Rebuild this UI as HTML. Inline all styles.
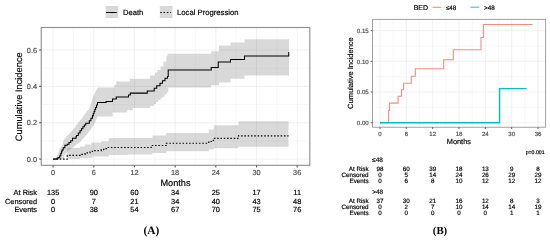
<!DOCTYPE html>
<html><head><meta charset="utf-8"><style>
html,body{margin:0;padding:0;background:#fff;width:550px;height:240px;overflow:hidden;font-family:"Liberation Sans", sans-serif;}
</style></head><body>
<svg width="550" height="240" viewBox="0 0 550 240" style="position:absolute;left:0;top:0;will-change:transform">
<g font-family='"Liberation Sans", sans-serif' text-rendering="geometricPrecision">
<line x1="73.44" y1="27.5" x2="73.44" y2="165.3" stroke="#efefef" stroke-width="0.45"/>
<line x1="114.12" y1="27.5" x2="114.12" y2="165.3" stroke="#efefef" stroke-width="0.45"/>
<line x1="154.80" y1="27.5" x2="154.80" y2="165.3" stroke="#efefef" stroke-width="0.45"/>
<line x1="195.48" y1="27.5" x2="195.48" y2="165.3" stroke="#efefef" stroke-width="0.45"/>
<line x1="236.16" y1="27.5" x2="236.16" y2="165.3" stroke="#efefef" stroke-width="0.45"/>
<line x1="276.84" y1="27.5" x2="276.84" y2="165.3" stroke="#efefef" stroke-width="0.45"/>
<line x1="41.25" y1="140.92" x2="309.8" y2="140.92" stroke="#efefef" stroke-width="0.45"/>
<line x1="41.25" y1="104.56" x2="309.8" y2="104.56" stroke="#efefef" stroke-width="0.45"/>
<line x1="41.25" y1="68.20" x2="309.8" y2="68.20" stroke="#efefef" stroke-width="0.45"/>
<line x1="53.10" y1="27.5" x2="53.10" y2="165.3" stroke="#e8e8e8" stroke-width="0.6"/>
<line x1="93.78" y1="27.5" x2="93.78" y2="165.3" stroke="#e8e8e8" stroke-width="0.6"/>
<line x1="134.46" y1="27.5" x2="134.46" y2="165.3" stroke="#e8e8e8" stroke-width="0.6"/>
<line x1="175.14" y1="27.5" x2="175.14" y2="165.3" stroke="#e8e8e8" stroke-width="0.6"/>
<line x1="215.82" y1="27.5" x2="215.82" y2="165.3" stroke="#e8e8e8" stroke-width="0.6"/>
<line x1="256.50" y1="27.5" x2="256.50" y2="165.3" stroke="#e8e8e8" stroke-width="0.6"/>
<line x1="297.18" y1="27.5" x2="297.18" y2="165.3" stroke="#e8e8e8" stroke-width="0.6"/>
<line x1="41.25" y1="159.10" x2="309.8" y2="159.10" stroke="#e8e8e8" stroke-width="0.6"/>
<line x1="41.25" y1="122.74" x2="309.8" y2="122.74" stroke="#e8e8e8" stroke-width="0.6"/>
<line x1="41.25" y1="86.38" x2="309.8" y2="86.38" stroke="#e8e8e8" stroke-width="0.6"/>
<line x1="41.25" y1="50.02" x2="309.8" y2="50.02" stroke="#e8e8e8" stroke-width="0.6"/>
<path d="M53.20,159.10 L55.00,159.10 L55.00,158.20 L55.50,158.20 L55.50,157.63 L56.00,157.63 L56.00,157.07 L56.50,157.07 L56.50,156.50 L56.75,156.50 L56.75,155.92 L57.00,155.92 L57.00,155.33 L57.25,155.33 L57.25,154.75 L57.50,154.75 L57.50,154.17 L57.75,154.17 L57.75,153.58 L58.00,153.58 L58.00,153.00 L58.29,153.00 L58.29,152.43 L58.57,152.43 L58.57,151.86 L58.86,151.86 L58.86,151.29 L59.14,151.29 L59.14,150.71 L59.43,150.71 L59.43,150.14 L59.71,150.14 L59.71,149.57 L60.00,149.57 L60.00,149.00 L60.38,149.00 L60.38,148.38 L60.75,148.38 L60.75,147.75 L61.12,147.75 L61.12,147.12 L61.50,147.12 L61.50,146.50 L61.80,146.50 L61.80,145.88 L62.10,145.88 L62.10,145.25 L62.40,145.25 L62.40,144.62 L62.70,144.62 L62.70,144.00 L62.80,144.00 L62.80,143.42 L62.90,143.42 L62.90,142.83 L63.00,142.83 L63.00,142.25 L63.10,142.25 L63.10,141.67 L63.20,141.67 L63.20,141.08 L63.30,141.08 L63.30,140.50 L63.71,140.50 L63.71,139.94 L64.12,139.94 L64.12,139.38 L64.54,139.38 L64.54,138.81 L64.95,138.81 L64.95,138.25 L65.36,138.25 L65.36,137.69 L65.77,137.69 L65.77,137.12 L66.19,137.12 L66.19,136.56 L66.60,136.56 L66.60,136.00 L67.16,136.00 L67.16,135.44 L67.72,135.44 L67.72,134.88 L68.29,134.88 L68.29,134.31 L68.85,134.31 L68.85,133.75 L69.41,133.75 L69.41,133.19 L69.97,133.19 L69.97,132.62 L70.54,132.62 L70.54,132.06 L71.10,132.06 L71.10,131.50 L71.60,131.50 L71.60,130.88 L72.10,130.88 L72.10,130.26 L72.60,130.26 L72.60,129.63 L73.10,129.63 L73.10,129.01 L73.60,129.01 L73.60,128.39 L74.10,128.39 L74.10,127.77 L74.60,127.77 L74.60,127.14 L75.10,127.14 L75.10,126.52 L75.60,126.52 L75.60,125.90 L76.02,125.90 L76.02,125.34 L76.45,125.34 L76.45,124.78 L76.88,124.78 L76.88,124.21 L77.30,124.21 L77.30,123.65 L77.72,123.65 L77.72,123.09 L78.15,123.09 L78.15,122.53 L78.58,122.53 L78.58,121.96 L79.00,121.96 L79.00,121.40 L79.50,121.40 L79.50,120.83 L80.00,120.83 L80.00,120.27 L80.50,120.27 L80.50,119.70 L81.00,119.70 L81.00,119.13 L81.50,119.13 L81.50,118.57 L82.00,118.57 L82.00,118.00 L82.39,118.00 L82.39,117.40 L82.77,117.40 L82.77,116.80 L83.16,116.80 L83.16,116.20 L83.54,116.20 L83.54,115.60 L83.93,115.60 L83.93,115.00 L84.31,115.00 L84.31,114.40 L84.70,114.40 L84.70,113.80 L85.16,113.80 L85.16,113.22 L85.62,113.22 L85.62,112.64 L86.08,112.64 L86.08,112.06 L86.54,112.06 L86.54,111.48 L87.00,111.48 L87.00,110.90 L87.46,110.90 L87.46,110.32 L87.92,110.32 L87.92,109.74 L88.38,109.74 L88.38,109.16 L88.84,109.16 L88.84,108.58 L89.30,108.58 L89.30,108.00 L89.51,108.00 L89.51,107.39 L89.71,107.39 L89.71,106.78 L89.92,106.78 L89.92,106.17 L90.12,106.17 L90.12,105.56 L90.33,105.56 L90.33,104.94 L90.53,104.94 L90.53,104.33 L90.74,104.33 L90.74,103.72 L90.94,103.72 L90.94,103.11 L91.15,103.11 L91.15,102.50 L91.36,102.50 L91.36,101.89 L91.56,101.89 L91.56,101.28 L91.77,101.28 L91.77,100.67 L91.97,100.67 L91.97,100.06 L92.18,100.06 L92.18,99.44 L92.38,99.44 L92.38,98.83 L92.59,98.83 L92.59,98.22 L92.79,98.22 L92.79,97.61 L93.00,97.61 L93.00,97.00 L93.26,97.00 L93.26,96.42 L93.52,96.42 L93.52,95.85 L93.78,95.85 L93.78,95.28 L94.04,95.28 L94.04,94.70 L94.30,94.70 L94.30,94.12 L94.56,94.12 L94.56,93.55 L94.82,93.55 L94.82,92.97 L95.08,92.97 L95.08,92.40 L95.34,92.40 L95.34,91.83 L95.60,91.83 L95.60,91.25 L95.92,91.25 L95.92,90.62 L96.23,90.62 L96.23,90.00 L96.55,90.00 L96.55,89.38 L96.87,89.38 L96.87,88.75 L97.18,88.75 L97.18,88.12 L97.50,88.12 L97.50,87.50 L114.40,87.50 L114.40,84.70 L116.20,84.70 L116.20,81.50 L130.00,81.50 L130.00,78.75 L150.00,78.75 L150.00,75.50 L155.00,75.50 L155.00,72.50 L157.50,72.50 L157.50,70.00 L160.60,70.00 L160.60,66.25 L163.50,66.25 L163.50,61.60 L166.30,61.60 L166.30,56.00 L167.50,56.00 L167.50,53.75 L211.25,53.75 L211.25,51.25 L219.00,51.25 L219.00,45.50 L230.50,45.50 L230.50,42.50 L244.50,42.50 L244.50,39.25 L289.00,39.25 L289.00,75.50 L244.50,75.50 L244.50,78.75 L230.50,78.75 L230.50,82.50 L219.00,82.50 L219.00,85.30 L211.00,85.30 L211.00,87.50 L168.30,87.50 L168.30,92.50 L166.70,92.50 L166.70,94.60 L164.50,94.60 L164.50,96.70 L162.50,96.70 L162.50,98.30 L160.50,98.30 L160.50,100.00 L158.30,100.00 L158.30,102.00 L156.00,102.00 L156.00,104.00 L153.75,104.00 L153.75,106.00 L150.00,106.00 L150.00,108.00 L132.80,108.00 L132.80,110.20 L127.30,110.20 L127.30,112.60 L112.60,112.60 L112.60,116.60 L97.30,116.60 L97.30,117.18 L97.09,117.18 L97.09,117.76 L96.88,117.76 L96.88,118.34 L96.67,118.34 L96.67,118.92 L96.46,118.92 L96.46,119.50 L96.25,119.50 L96.25,120.12 L95.94,120.12 L95.94,120.75 L95.62,120.75 L95.62,121.38 L95.31,121.38 L95.31,122.00 L95.00,122.00 L95.00,122.62 L94.69,122.62 L94.69,123.25 L94.38,123.25 L94.38,123.88 L94.06,123.88 L94.06,124.50 L93.75,124.50 L93.75,125.12 L93.44,125.12 L93.44,125.75 L93.12,125.75 L93.12,126.38 L92.81,126.38 L92.81,127.00 L92.50,127.00 L92.50,127.62 L92.00,127.62 L92.00,128.25 L91.50,128.25 L91.50,128.88 L91.00,128.88 L91.00,129.50 L90.50,129.50 L90.50,130.12 L90.00,130.12 L90.00,130.75 L89.50,130.75 L89.50,131.38 L89.00,131.38 L89.00,132.00 L88.50,132.00 L88.50,132.62 L88.00,132.62 L88.00,133.25 L87.50,133.25 L87.50,133.83 L87.00,133.83 L87.00,134.42 L86.50,134.42 L86.50,135.00 L86.00,135.00 L86.00,135.58 L85.50,135.58 L85.50,136.17 L85.00,136.17 L85.00,136.75 L84.50,136.75 L84.50,137.33 L84.00,137.33 L84.00,137.92 L83.50,137.92 L83.50,138.50 L83.00,138.50 L83.00,139.08 L82.50,139.08 L82.50,139.67 L82.00,139.67 L82.00,140.25 L81.50,140.25 L81.50,140.83 L81.00,140.83 L81.00,141.42 L80.50,141.42 L80.50,142.00 L80.00,142.00 L80.00,142.57 L79.14,142.57 L79.14,143.14 L78.29,143.14 L78.29,143.71 L77.43,143.71 L77.43,144.29 L76.57,144.29 L76.57,144.86 L75.71,144.86 L75.71,145.43 L74.86,145.43 L74.86,146.00 L74.00,146.00 L74.00,146.57 L73.30,146.57 L73.30,147.15 L72.60,147.15 L72.60,147.72 L71.90,147.72 L71.90,148.30 L71.20,148.30 L71.20,148.88 L70.50,148.88 L70.50,149.45 L69.80,149.45 L69.80,150.03 L69.10,150.03 L69.10,150.60 L68.40,150.60 L68.40,151.20 L67.91,151.20 L67.91,151.80 L67.42,151.80 L67.42,152.40 L66.93,152.40 L66.93,153.00 L66.44,153.00 L66.44,153.60 L65.96,153.60 L65.96,154.20 L65.47,154.20 L65.47,154.80 L64.98,154.80 L64.98,155.40 L64.49,155.40 L64.49,156.00 L64.00,156.00 L64.00,159.10 L62.00,159.10 L62.00,159.10 L53.20,159.10Z" fill="#000" fill-opacity="0.15"/>
<path d="M53.20,159.10 L67.25,159.10 L67.25,147.70 L80.00,147.70 L80.00,146.50 L85.00,146.50 L85.00,144.40 L91.25,144.40 L91.25,142.50 L101.25,142.50 L101.25,141.25 L108.75,141.25 L108.75,138.10 L152.50,138.10 L152.50,135.50 L166.25,135.50 L166.25,133.00 L208.75,133.00 L208.75,129.50 L213.75,129.50 L213.75,125.20 L238.50,125.20 L238.50,121.25 L288.50,121.25 L288.50,146.80 L238.50,146.80 L238.50,148.20 L213.75,148.20 L213.75,149.50 L209.00,149.50 L209.00,151.25 L166.25,151.25 L166.25,153.00 L152.50,153.00 L152.50,154.40 L128.00,154.40 L128.00,155.00 L108.75,155.00 L108.75,156.50 L92.50,156.50 L92.50,158.00 L80.00,158.00 L80.00,159.10 L53.20,159.10Z" fill="#000" fill-opacity="0.15"/>
<path d="M53.20,159.10H56.20V158.75H57.90V157.60H59.70V155.80H60.80V153.50H61.40V151.75H62.00V150.00H63.20V147.70H64.90V145.30H67.25V144.20H69.00V142.40H70.75V140.70H72.50V138.30H76.00V136.60H76.50V135.40H78.25V133.07H80.00V130.75H81.45V128.72H82.90V126.70H84.35V124.95H85.80V123.20H89.30V120.80H90.90V118.20H92.50V115.60H93.28V113.57H94.05V111.55H94.82V109.53H95.60V107.50H96.55V105.00H97.50V102.50H106.10V101.40H112.50V98.90H116.25V96.90H128.50V95.00H130.30V93.10H147.30V91.00H154.20V88.30H156.70V85.80H160.00V83.30H162.50V80.80H165.00V78.30H167.50V76.50H168.20V70.00H211.25V67.50H218.25V62.00H230.50V59.50H244.50V56.00H288.75V52.50H289.00" fill="none" stroke="#000" stroke-width="1.05"/>
<path d="M53.20,159.10H67.25V155.30H81.80V154.30H85.00V152.80H90.00V151.40H92.50V150.60H101.25V149.60H103.75V148.60H107.50V147.50H151.25V145.50H166.25V143.25H208.75V141.50H211.50V140.40H213.50V138.30H238.50V135.80H288.50" fill="none" stroke="#000" stroke-width="1.2" stroke-dasharray="1.5 1.8"/>
<rect x="41.25" y="27.5" width="268.55" height="137.80" fill="none" stroke="#8c8c8c" stroke-width="1.1"/>
<line x1="53.10" y1="165.3" x2="53.10" y2="167.40" stroke="#5a5a5a" stroke-width="1.1"/>
<text x="53.10" y="175.0" font-size="7.3" fill="#4d4d4d" stroke="#4d4d4d" stroke-width="0.18" text-anchor="middle">0</text>
<line x1="93.78" y1="165.3" x2="93.78" y2="167.40" stroke="#5a5a5a" stroke-width="1.1"/>
<text x="93.78" y="175.0" font-size="7.3" fill="#4d4d4d" stroke="#4d4d4d" stroke-width="0.18" text-anchor="middle">6</text>
<line x1="134.46" y1="165.3" x2="134.46" y2="167.40" stroke="#5a5a5a" stroke-width="1.1"/>
<text x="134.46" y="175.0" font-size="7.3" fill="#4d4d4d" stroke="#4d4d4d" stroke-width="0.18" text-anchor="middle">12</text>
<line x1="175.14" y1="165.3" x2="175.14" y2="167.40" stroke="#5a5a5a" stroke-width="1.1"/>
<text x="175.14" y="175.0" font-size="7.3" fill="#4d4d4d" stroke="#4d4d4d" stroke-width="0.18" text-anchor="middle">18</text>
<line x1="215.82" y1="165.3" x2="215.82" y2="167.40" stroke="#5a5a5a" stroke-width="1.1"/>
<text x="215.82" y="175.0" font-size="7.3" fill="#4d4d4d" stroke="#4d4d4d" stroke-width="0.18" text-anchor="middle">24</text>
<line x1="256.50" y1="165.3" x2="256.50" y2="167.40" stroke="#5a5a5a" stroke-width="1.1"/>
<text x="256.50" y="175.0" font-size="7.3" fill="#4d4d4d" stroke="#4d4d4d" stroke-width="0.18" text-anchor="middle">30</text>
<line x1="297.18" y1="165.3" x2="297.18" y2="167.40" stroke="#5a5a5a" stroke-width="1.1"/>
<text x="297.18" y="175.0" font-size="7.3" fill="#4d4d4d" stroke="#4d4d4d" stroke-width="0.18" text-anchor="middle">36</text>
<line x1="39.15" y1="159.10" x2="41.25" y2="159.10" stroke="#5a5a5a" stroke-width="1.1"/>
<text x="37.0" y="161.71" font-size="7.3" fill="#4d4d4d" stroke="#4d4d4d" stroke-width="0.18" text-anchor="end">0.0</text>
<line x1="39.15" y1="122.74" x2="41.25" y2="122.74" stroke="#5a5a5a" stroke-width="1.1"/>
<text x="37.0" y="125.35" font-size="7.3" fill="#4d4d4d" stroke="#4d4d4d" stroke-width="0.18" text-anchor="end">0.2</text>
<line x1="39.15" y1="86.38" x2="41.25" y2="86.38" stroke="#5a5a5a" stroke-width="1.1"/>
<text x="37.0" y="88.99" font-size="7.3" fill="#4d4d4d" stroke="#4d4d4d" stroke-width="0.18" text-anchor="end">0.4</text>
<line x1="39.15" y1="50.02" x2="41.25" y2="50.02" stroke="#5a5a5a" stroke-width="1.1"/>
<text x="37.0" y="52.63" font-size="7.3" fill="#4d4d4d" stroke="#4d4d4d" stroke-width="0.18" text-anchor="end">0.6</text>
<text x="175.5" y="185.6" font-size="9.2" fill="#000" stroke="#000" stroke-width="0.18" text-anchor="middle">Months</text>
<text transform="translate(21.7,96.75) rotate(-90)" font-size="9.3" fill="#000" stroke="#000" stroke-width="0.18" text-anchor="middle">Cumulative Incidence</text>
<rect x="105.6" y="6.0" width="12.6" height="12.1" fill="#000" fill-opacity="0.15"/>
<line x1="106.1" y1="12.5" x2="116.8" y2="12.5" stroke="#000" stroke-width="1"/>
<text x="123.0" y="14.8" font-size="7.6" fill="#000" stroke="#000" stroke-width="0.18">Death</text>
<rect x="159.8" y="6.0" width="12.6" height="12.1" fill="#000" fill-opacity="0.15"/>
<line x1="160.3" y1="12.5" x2="170.9" y2="12.5" stroke="#000" stroke-width="1" stroke-dasharray="1.5 1.8"/>
<text x="177.0" y="14.8" font-size="7.7" fill="#000" stroke="#000" stroke-width="0.18">Local Progression</text>
<text x="37.0" y="195.3" font-size="7.4" fill="#000" stroke="#000" stroke-width="0.18" text-anchor="end">At Risk</text>
<text x="37.0" y="203.7" font-size="7.4" fill="#000" stroke="#000" stroke-width="0.18" text-anchor="end">Censored</text>
<text x="37.0" y="212.0" font-size="7.4" fill="#000" stroke="#000" stroke-width="0.18" text-anchor="end">Events</text>
<text x="53.10" y="195.3" font-size="7.4" fill="#000" stroke="#000" stroke-width="0.18" text-anchor="middle">135</text>
<text x="93.78" y="195.3" font-size="7.4" fill="#000" stroke="#000" stroke-width="0.18" text-anchor="middle">90</text>
<text x="134.46" y="195.3" font-size="7.4" fill="#000" stroke="#000" stroke-width="0.18" text-anchor="middle">60</text>
<text x="175.14" y="195.3" font-size="7.4" fill="#000" stroke="#000" stroke-width="0.18" text-anchor="middle">34</text>
<text x="215.82" y="195.3" font-size="7.4" fill="#000" stroke="#000" stroke-width="0.18" text-anchor="middle">25</text>
<text x="256.50" y="195.3" font-size="7.4" fill="#000" stroke="#000" stroke-width="0.18" text-anchor="middle">17</text>
<text x="297.18" y="195.3" font-size="7.4" fill="#000" stroke="#000" stroke-width="0.18" text-anchor="middle">11</text>
<text x="53.10" y="203.7" font-size="7.4" fill="#000" stroke="#000" stroke-width="0.18" text-anchor="middle">0</text>
<text x="93.78" y="203.7" font-size="7.4" fill="#000" stroke="#000" stroke-width="0.18" text-anchor="middle">7</text>
<text x="134.46" y="203.7" font-size="7.4" fill="#000" stroke="#000" stroke-width="0.18" text-anchor="middle">21</text>
<text x="175.14" y="203.7" font-size="7.4" fill="#000" stroke="#000" stroke-width="0.18" text-anchor="middle">34</text>
<text x="215.82" y="203.7" font-size="7.4" fill="#000" stroke="#000" stroke-width="0.18" text-anchor="middle">40</text>
<text x="256.50" y="203.7" font-size="7.4" fill="#000" stroke="#000" stroke-width="0.18" text-anchor="middle">43</text>
<text x="297.18" y="203.7" font-size="7.4" fill="#000" stroke="#000" stroke-width="0.18" text-anchor="middle">48</text>
<text x="53.10" y="212.0" font-size="7.4" fill="#000" stroke="#000" stroke-width="0.18" text-anchor="middle">0</text>
<text x="93.78" y="212.0" font-size="7.4" fill="#000" stroke="#000" stroke-width="0.18" text-anchor="middle">38</text>
<text x="134.46" y="212.0" font-size="7.4" fill="#000" stroke="#000" stroke-width="0.18" text-anchor="middle">54</text>
<text x="175.14" y="212.0" font-size="7.4" fill="#000" stroke="#000" stroke-width="0.18" text-anchor="middle">67</text>
<text x="215.82" y="212.0" font-size="7.4" fill="#000" stroke="#000" stroke-width="0.18" text-anchor="middle">70</text>
<text x="256.50" y="212.0" font-size="7.4" fill="#000" stroke="#000" stroke-width="0.18" text-anchor="middle">75</text>
<text x="297.18" y="212.0" font-size="7.4" fill="#000" stroke="#000" stroke-width="0.18" text-anchor="middle">76</text>
<text x="143.6" y="234.4" font-size="11.3" font-weight="bold" fill="#000" font-family='"Liberation Serif", serif'>(A)</text>
<line x1="393.17" y1="19.4" x2="393.17" y2="127.25" stroke="#efefef" stroke-width="0.45"/>
<line x1="419.51" y1="19.4" x2="419.51" y2="127.25" stroke="#efefef" stroke-width="0.45"/>
<line x1="445.85" y1="19.4" x2="445.85" y2="127.25" stroke="#efefef" stroke-width="0.45"/>
<line x1="472.19" y1="19.4" x2="472.19" y2="127.25" stroke="#efefef" stroke-width="0.45"/>
<line x1="498.53" y1="19.4" x2="498.53" y2="127.25" stroke="#efefef" stroke-width="0.45"/>
<line x1="524.87" y1="19.4" x2="524.87" y2="127.25" stroke="#efefef" stroke-width="0.45"/>
<line x1="372.5" y1="107.39" x2="545.6" y2="107.39" stroke="#efefef" stroke-width="0.45"/>
<line x1="372.5" y1="76.68" x2="545.6" y2="76.68" stroke="#efefef" stroke-width="0.45"/>
<line x1="372.5" y1="45.96" x2="545.6" y2="45.96" stroke="#efefef" stroke-width="0.45"/>
<line x1="380.00" y1="19.4" x2="380.00" y2="127.25" stroke="#e8e8e8" stroke-width="0.6"/>
<line x1="406.34" y1="19.4" x2="406.34" y2="127.25" stroke="#e8e8e8" stroke-width="0.6"/>
<line x1="432.68" y1="19.4" x2="432.68" y2="127.25" stroke="#e8e8e8" stroke-width="0.6"/>
<line x1="459.02" y1="19.4" x2="459.02" y2="127.25" stroke="#e8e8e8" stroke-width="0.6"/>
<line x1="485.36" y1="19.4" x2="485.36" y2="127.25" stroke="#e8e8e8" stroke-width="0.6"/>
<line x1="511.70" y1="19.4" x2="511.70" y2="127.25" stroke="#e8e8e8" stroke-width="0.6"/>
<line x1="538.04" y1="19.4" x2="538.04" y2="127.25" stroke="#e8e8e8" stroke-width="0.6"/>
<line x1="372.5" y1="122.75" x2="545.6" y2="122.75" stroke="#e8e8e8" stroke-width="0.6"/>
<line x1="372.5" y1="92.03" x2="545.6" y2="92.03" stroke="#e8e8e8" stroke-width="0.6"/>
<line x1="372.5" y1="61.32" x2="545.6" y2="61.32" stroke="#e8e8e8" stroke-width="0.6"/>
<line x1="372.5" y1="30.61" x2="545.6" y2="30.61" stroke="#e8e8e8" stroke-width="0.6"/>
<path d="M380.00,122.75H388.60V110.60H389.50V103.10H398.10V96.25H401.50V89.75H403.60V83.20H411.30V76.30H415.30V68.70H443.70V59.70H453.30V49.80H481.00V37.50H483.40V24.50H532.50" fill="none" stroke="#F8766D" stroke-opacity="0.85" stroke-width="1.1"/>
<path d="M380.00,122.75H499.60V88.65H526.50" fill="none" stroke="#00BFC4" stroke-width="1.4"/>
<rect x="372.5" y="19.4" width="173.10" height="107.85" fill="none" stroke="#a0a0a0" stroke-width="1.0"/>
<line x1="380.00" y1="127.25" x2="380.00" y2="129.05" stroke="#5a5a5a" stroke-width="1.0"/>
<text x="380.00" y="135.6" font-size="6.1" fill="#4d4d4d" stroke="#4d4d4d" stroke-width="0.18" text-anchor="middle">0</text>
<line x1="406.34" y1="127.25" x2="406.34" y2="129.05" stroke="#5a5a5a" stroke-width="1.0"/>
<text x="406.34" y="135.6" font-size="6.1" fill="#4d4d4d" stroke="#4d4d4d" stroke-width="0.18" text-anchor="middle">6</text>
<line x1="432.68" y1="127.25" x2="432.68" y2="129.05" stroke="#5a5a5a" stroke-width="1.0"/>
<text x="432.68" y="135.6" font-size="6.1" fill="#4d4d4d" stroke="#4d4d4d" stroke-width="0.18" text-anchor="middle">12</text>
<line x1="459.02" y1="127.25" x2="459.02" y2="129.05" stroke="#5a5a5a" stroke-width="1.0"/>
<text x="459.02" y="135.6" font-size="6.1" fill="#4d4d4d" stroke="#4d4d4d" stroke-width="0.18" text-anchor="middle">18</text>
<line x1="485.36" y1="127.25" x2="485.36" y2="129.05" stroke="#5a5a5a" stroke-width="1.0"/>
<text x="485.36" y="135.6" font-size="6.1" fill="#4d4d4d" stroke="#4d4d4d" stroke-width="0.18" text-anchor="middle">24</text>
<line x1="511.70" y1="127.25" x2="511.70" y2="129.05" stroke="#5a5a5a" stroke-width="1.0"/>
<text x="511.70" y="135.6" font-size="6.1" fill="#4d4d4d" stroke="#4d4d4d" stroke-width="0.18" text-anchor="middle">30</text>
<line x1="538.04" y1="127.25" x2="538.04" y2="129.05" stroke="#5a5a5a" stroke-width="1.0"/>
<text x="538.04" y="135.6" font-size="6.1" fill="#4d4d4d" stroke="#4d4d4d" stroke-width="0.18" text-anchor="middle">36</text>
<line x1="370.70" y1="122.75" x2="372.5" y2="122.75" stroke="#5a5a5a" stroke-width="1.0"/>
<text x="368.7" y="124.93" font-size="6.1" fill="#4d4d4d" stroke="#4d4d4d" stroke-width="0.18" text-anchor="end">0.00</text>
<line x1="370.70" y1="92.03" x2="372.5" y2="92.03" stroke="#5a5a5a" stroke-width="1.0"/>
<text x="368.7" y="94.22" font-size="6.1" fill="#4d4d4d" stroke="#4d4d4d" stroke-width="0.18" text-anchor="end">0.05</text>
<line x1="370.70" y1="61.32" x2="372.5" y2="61.32" stroke="#5a5a5a" stroke-width="1.0"/>
<text x="368.7" y="63.50" font-size="6.1" fill="#4d4d4d" stroke="#4d4d4d" stroke-width="0.18" text-anchor="end">0.10</text>
<line x1="370.70" y1="30.61" x2="372.5" y2="30.61" stroke="#5a5a5a" stroke-width="1.0"/>
<text x="368.7" y="32.79" font-size="6.1" fill="#4d4d4d" stroke="#4d4d4d" stroke-width="0.18" text-anchor="end">0.15</text>
<text x="458.85" y="144.2" font-size="7.4" fill="#000" stroke="#000" stroke-width="0.18" text-anchor="middle">Months</text>
<text transform="translate(353.0,73.1) rotate(-90)" font-size="7.5" fill="#000" stroke="#000" stroke-width="0.18" text-anchor="middle">Cumulative Incidence</text>
<text x="413.7" y="9.6" font-size="7.0" fill="#000" stroke="#000" stroke-width="0.18">BED</text>
<line x1="432.5" y1="7.3" x2="441.4" y2="7.3" stroke="#F8766D" stroke-width="0.9"/>
<text x="445.9" y="9.5" font-size="6.3" fill="#000" stroke="#000" stroke-width="0.18">&#8804;48</text>
<line x1="470.3" y1="7.2" x2="479.4" y2="7.2" stroke="#00BFC4" stroke-width="0.9"/>
<text x="484.1" y="9.5" font-size="6.3" fill="#000" stroke="#000" stroke-width="0.18">&gt;48</text>
<text x="525.7" y="153.5" font-size="5.2" fill="#000" stroke="#000" stroke-width="0.18">p=0.001</text>
<text x="372.1" y="161.7" font-size="6.5" fill="#000" stroke="#000" stroke-width="0.18">&#8804;48</text>
<text x="372.2" y="193.5" font-size="6.5" fill="#000" stroke="#000" stroke-width="0.18">&gt;48</text>
<text x="368.6" y="170.6" font-size="6.25" fill="#000" stroke="#000" stroke-width="0.18" text-anchor="end">At Risk</text>
<text x="368.6" y="176.7" font-size="6.25" fill="#000" stroke="#000" stroke-width="0.18" text-anchor="end">Censored</text>
<text x="368.6" y="183.0" font-size="6.25" fill="#000" stroke="#000" stroke-width="0.18" text-anchor="end">Events</text>
<text x="380.00" y="170.6" font-size="6.25" fill="#000" stroke="#000" stroke-width="0.18" text-anchor="middle">98</text>
<text x="406.34" y="170.6" font-size="6.25" fill="#000" stroke="#000" stroke-width="0.18" text-anchor="middle">60</text>
<text x="432.68" y="170.6" font-size="6.25" fill="#000" stroke="#000" stroke-width="0.18" text-anchor="middle">39</text>
<text x="459.02" y="170.6" font-size="6.25" fill="#000" stroke="#000" stroke-width="0.18" text-anchor="middle">18</text>
<text x="485.36" y="170.6" font-size="6.25" fill="#000" stroke="#000" stroke-width="0.18" text-anchor="middle">13</text>
<text x="511.70" y="170.6" font-size="6.25" fill="#000" stroke="#000" stroke-width="0.18" text-anchor="middle">9</text>
<text x="538.04" y="170.6" font-size="6.25" fill="#000" stroke="#000" stroke-width="0.18" text-anchor="middle">8</text>
<text x="380.00" y="176.7" font-size="6.25" fill="#000" stroke="#000" stroke-width="0.18" text-anchor="middle">0</text>
<text x="406.34" y="176.7" font-size="6.25" fill="#000" stroke="#000" stroke-width="0.18" text-anchor="middle">5</text>
<text x="432.68" y="176.7" font-size="6.25" fill="#000" stroke="#000" stroke-width="0.18" text-anchor="middle">14</text>
<text x="459.02" y="176.7" font-size="6.25" fill="#000" stroke="#000" stroke-width="0.18" text-anchor="middle">24</text>
<text x="485.36" y="176.7" font-size="6.25" fill="#000" stroke="#000" stroke-width="0.18" text-anchor="middle">26</text>
<text x="511.70" y="176.7" font-size="6.25" fill="#000" stroke="#000" stroke-width="0.18" text-anchor="middle">29</text>
<text x="538.04" y="176.7" font-size="6.25" fill="#000" stroke="#000" stroke-width="0.18" text-anchor="middle">29</text>
<text x="380.00" y="183.0" font-size="6.25" fill="#000" stroke="#000" stroke-width="0.18" text-anchor="middle">0</text>
<text x="406.34" y="183.0" font-size="6.25" fill="#000" stroke="#000" stroke-width="0.18" text-anchor="middle">6</text>
<text x="432.68" y="183.0" font-size="6.25" fill="#000" stroke="#000" stroke-width="0.18" text-anchor="middle">8</text>
<text x="459.02" y="183.0" font-size="6.25" fill="#000" stroke="#000" stroke-width="0.18" text-anchor="middle">10</text>
<text x="485.36" y="183.0" font-size="6.25" fill="#000" stroke="#000" stroke-width="0.18" text-anchor="middle">12</text>
<text x="511.70" y="183.0" font-size="6.25" fill="#000" stroke="#000" stroke-width="0.18" text-anchor="middle">12</text>
<text x="538.04" y="183.0" font-size="6.25" fill="#000" stroke="#000" stroke-width="0.18" text-anchor="middle">12</text>
<text x="368.6" y="202.5" font-size="6.25" fill="#000" stroke="#000" stroke-width="0.18" text-anchor="end">At Risk</text>
<text x="368.6" y="208.75" font-size="6.25" fill="#000" stroke="#000" stroke-width="0.18" text-anchor="end">Censored</text>
<text x="368.6" y="215.0" font-size="6.25" fill="#000" stroke="#000" stroke-width="0.18" text-anchor="end">Events</text>
<text x="380.00" y="202.5" font-size="6.25" fill="#000" stroke="#000" stroke-width="0.18" text-anchor="middle">37</text>
<text x="406.34" y="202.5" font-size="6.25" fill="#000" stroke="#000" stroke-width="0.18" text-anchor="middle">30</text>
<text x="432.68" y="202.5" font-size="6.25" fill="#000" stroke="#000" stroke-width="0.18" text-anchor="middle">21</text>
<text x="459.02" y="202.5" font-size="6.25" fill="#000" stroke="#000" stroke-width="0.18" text-anchor="middle">16</text>
<text x="485.36" y="202.5" font-size="6.25" fill="#000" stroke="#000" stroke-width="0.18" text-anchor="middle">12</text>
<text x="511.70" y="202.5" font-size="6.25" fill="#000" stroke="#000" stroke-width="0.18" text-anchor="middle">8</text>
<text x="538.04" y="202.5" font-size="6.25" fill="#000" stroke="#000" stroke-width="0.18" text-anchor="middle">3</text>
<text x="380.00" y="208.75" font-size="6.25" fill="#000" stroke="#000" stroke-width="0.18" text-anchor="middle">0</text>
<text x="406.34" y="208.75" font-size="6.25" fill="#000" stroke="#000" stroke-width="0.18" text-anchor="middle">2</text>
<text x="432.68" y="208.75" font-size="6.25" fill="#000" stroke="#000" stroke-width="0.18" text-anchor="middle">7</text>
<text x="459.02" y="208.75" font-size="6.25" fill="#000" stroke="#000" stroke-width="0.18" text-anchor="middle">10</text>
<text x="485.36" y="208.75" font-size="6.25" fill="#000" stroke="#000" stroke-width="0.18" text-anchor="middle">14</text>
<text x="511.70" y="208.75" font-size="6.25" fill="#000" stroke="#000" stroke-width="0.18" text-anchor="middle">14</text>
<text x="538.04" y="208.75" font-size="6.25" fill="#000" stroke="#000" stroke-width="0.18" text-anchor="middle">19</text>
<text x="380.00" y="215.0" font-size="6.25" fill="#000" stroke="#000" stroke-width="0.18" text-anchor="middle">0</text>
<text x="406.34" y="215.0" font-size="6.25" fill="#000" stroke="#000" stroke-width="0.18" text-anchor="middle">0</text>
<text x="432.68" y="215.0" font-size="6.25" fill="#000" stroke="#000" stroke-width="0.18" text-anchor="middle">0</text>
<text x="459.02" y="215.0" font-size="6.25" fill="#000" stroke="#000" stroke-width="0.18" text-anchor="middle">0</text>
<text x="485.36" y="215.0" font-size="6.25" fill="#000" stroke="#000" stroke-width="0.18" text-anchor="middle">0</text>
<text x="511.70" y="215.0" font-size="6.25" fill="#000" stroke="#000" stroke-width="0.18" text-anchor="middle">1</text>
<text x="538.04" y="215.0" font-size="6.25" fill="#000" stroke="#000" stroke-width="0.18" text-anchor="middle">1</text>
<text x="432.8" y="234.4" font-size="10.8" font-weight="bold" fill="#000" font-family='"Liberation Serif", serif'>(B)</text>
</g></svg>
</body></html>
